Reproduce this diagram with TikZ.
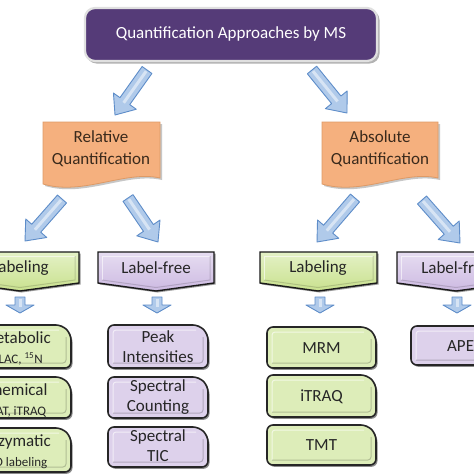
\documentclass[tikz,border=0pt]{standalone}
\usepackage{fontspec}
\setmainfont{Carlito}
\usetikzlibrary{calc}
\definecolor{titlepurple}{HTML}{553B78}
\definecolor{orangef}{HTML}{F5B07E}
\definecolor{orangel}{HTML}{DE9A66}
\definecolor{greenf}{HTML}{DDEDB9}
\definecolor{greentop}{HTML}{E4F1C6}
\definecolor{greenbot}{HTML}{C9E18E}
\definecolor{purplef}{HTML}{DDD1EB}
\definecolor{purpletop}{HTML}{E6DDF1}
\definecolor{purplebot}{HTML}{CDBAE2}
\definecolor{arrfill}{HTML}{B0CAEA}
\definecolor{arredge}{HTML}{5E8DC9}
\definecolor{darktext}{HTML}{262626}
\definecolor{browntext}{HTML}{3A2A1C}

\newcommand\blockarr[5]{%
 \pgfpointdiff{\pgfpointanchor{#1}{center}}{\pgfpointanchor{#2}{center}}%
 \pgfgetlastxy\myDX\myDY
 \pgfmathsetmacro\myAng{atan2(\myDY,\myDX)}%
 \pgfmathsetmacro\myLen{veclen(\myDX,\myDY)}%
 \pgfmathsetmacro\myNeck{\myLen-#5}%
 \begin{scope}[shift={(#1)},rotate=\myAng]
   \draw[arrbody] (0,-#3) -- (\myNeck,-#3) -- (\myNeck,-#4) -- (\myLen,0) -- (\myNeck,#4) -- (\myNeck,#3) -- (0,#3) -- cycle;
   \draw[arrhi] (1.5,0) -- (\myNeck+2,0);
 \end{scope}}

\newcommand\resbox[5]{%
 \fill[black!45,rounded corners=6pt,shift={(1.5,1.8)}] (#1,#2) -- (#3-9,#2) -- (#3,#2+9) -- (#3,#4) -- (#1,#4) -- cycle;
 \draw[#5,rounded corners=6pt] (#1,#2) -- (#3-9,#2) -- (#3,#2+9) -- (#3,#4) -- (#1,#4) -- cycle;
 \draw[rounded corners=3pt,white,opacity=.6,line width=1pt] (#1+5,#4-5) -- (#1+5,#2+5) -- (#3-12,#2+5);
 \draw[rounded corners=3pt,black,opacity=.2,line width=1pt] (#1+5,#4-5) -- (#3-5,#4-5) -- (#3-5,#2+12);
}

\newcommand\penta[4]{%
 \fill[black!40,shift={(1.5,1.5)}] (#1,252) -- (#2,252) -- (#2,283) -- (#3,291) -- (#1,283) -- cycle;
 \draw[#4] (#1,252) -- (#2,252) -- (#2,283) -- (#3,291) -- (#1,283) -- cycle;
 \draw[white,opacity=.6,line width=1pt] (#1+4,280) -- (#1+4,256) -- (#2-4,256);
 \draw[black,opacity=.15,line width=1pt] (#2-4,256) -- (#2-4,280) -- (#3,287.5) -- (#1+4,280);
}

\newcommand\docbox[2]{%
 \fill[black!22,shift={(2,2)}] (#1,122) -- (#2,122) -- (#2,178) .. controls (#2-35,170) and (#1+40,196) .. (#1,184) -- cycle;
 \draw[orangebox] (#1,122) -- (#2,122) -- (#2,178) .. controls (#2-35,170) and (#1+40,196) .. (#1,184) -- cycle;
}

\begin{document}
\begin{tikzpicture}[x=1pt,y=-1pt,
  arrbody/.style={fill=arrfill,draw=arredge,line width=0.9pt,line join=round},
  arrhi/.style={draw=white,opacity=.5,line width=3pt},
  greenbox/.style={fill=greenf,draw=black!85,line width=1.6pt},
  purplebox/.style={fill=purplef,draw=black!85,line width=1.6pt},
  greenpenta/.style={top color=greentop,bottom color=greenbot,draw=black!90,line width=1.4pt},
  purplepenta/.style={top color=purpletop,bottom color=purplebot,draw=black!90,line width=1.4pt},
  orangebox/.style={fill=orangef,draw=orangel,line width=0.8pt},
  ttext/.style={text=white,font=\fontsize{17}{20}\selectfont,inner sep=0pt},
  otext/.style={text=browntext,font=\fontsize{17}{22}\selectfont,align=center,inner sep=0pt},
  btext/.style={text=darktext,font=\fontsize{17}{20}\selectfont,align=center,inner sep=0pt},
  smalltext/.style={font=\fontsize{13}{14}\selectfont}
]
\useasboundingbox (0,0) rectangle (474,474);
\clip (0,0) rectangle (474,474);
\fill[white] (0,0) rectangle (474,474);

% title
\fill[black!30,rounded corners=10pt] (86.5,10) rectangle (379.5,63.5);
\draw[fill=titlepurple,draw=black!12,line width=2.2pt,rounded corners=10pt] (85,8) rectangle (377,61);
\node[ttext] (title) at (231,34) {Quantification Approaches by MS};

% orange boxes
\docbox{43}{160}
\docbox{322}{438}
\node[otext] (rel) at (101,149) {Relative\\Quantification};
\node[otext] (abs) at (380,149) {Absolute\\Quantification};

% pentagons
\penta{-38}{79}{20}{greenpenta}
\penta{98}{214}{156}{purplepenta}
\penta{260}{377}{318}{greenpenta}
\penta{397}{515}{456}{purplepenta}
\node[btext] (lab1) at (20,268) {Labeling};
\node[btext] (lf1) at (156,268) {Label-free};
\node[btext] (lab2) at (318,268) {Labeling};
\node[btext] (lf2) at (456,268) {Label-free};

% result boxes
\resbox{-38}{325}{71}{368}{greenbox}
\resbox{-38}{377}{71}{418}{greenbox}
\resbox{-38}{428}{71}{472}{greenbox}
\resbox{108}{325}{208}{368}{purplebox}
\resbox{108}{377}{208}{418}{purplebox}
\resbox{108}{427}{208}{467}{purplebox}
\resbox{267}{327}{376}{368}{greenbox}
\resbox{267}{375}{376}{417}{greenbox}
\resbox{267}{425}{376}{465}{greenbox}
\resbox{411}{326}{520}{365}{purplebox}

\node[btext] (met) at (16,348) {Metabolic\\{\fontsize{13}{14}\selectfont SILAC, \textsuperscript{15}N}};
\node[btext] (chem) at (16,400) {Chemical\\{\fontsize{13}{14}\selectfont ICAT, iTRAQ}};
\node[btext] (enz) at (16,452) {Enzymatic\\{\fontsize{13}{14}\selectfont \textsuperscript{18}O labeling}};
\node[btext] (peak) at (158,347) {Peak\\Intensities};
\node[btext] (spc) at (158,397.5) {Spectral\\Counting};
\node[btext] (tic) at (158,446) {Spectral\\TIC};
\node[btext] (mrm) at (321.5,348) {MRM};
\node[btext] (itraq) at (321.5,397) {iTRAQ};
\node[btext] (tmt) at (321.5,445.5) {TMT};
\node[btext] (apex) at (465,346) {APEX};

% arrow end points
\coordinate (t1s) at (147,70);  \coordinate (t1e) at (115,115);
\coordinate (t2s) at (312,70);  \coordinate (t2e) at (347,113);
\coordinate (r1s) at (62,199);  \coordinate (r1e) at (25,241);
\coordinate (r2s) at (128,198); \coordinate (r2e) at (158,242);
\coordinate (a1s) at (355,198); \coordinate (a1e) at (317,242);
\coordinate (a2s) at (422,200); \coordinate (a2e) at (460,243);
\coordinate (s1s) at (20,297);  \coordinate (s1e) at (20,313);
\coordinate (s2s) at (157,297); \coordinate (s2e) at (157,313);
\coordinate (s3s) at (320,297); \coordinate (s3e) at (320,313);
\coordinate (s4s) at (457,297); \coordinate (s4e) at (457,313);

\blockarr{t1s}{t1e}{6}{14}{17}
\blockarr{t2s}{t2e}{6}{14}{17}
\blockarr{r1s}{r1e}{6}{14}{17}
\blockarr{r2s}{r2e}{6}{14}{17}
\blockarr{a1s}{a1e}{6}{14}{17}
\blockarr{a2s}{a2e}{6}{14}{17}
\blockarr{s1s}{s1e}{5}{14}{8}
\blockarr{s2s}{s2e}{5}{14}{8}
\blockarr{s3s}{s3e}{5}{14}{8}
\blockarr{s4s}{s4e}{5}{14}{8}
\end{tikzpicture}
\end{document}
